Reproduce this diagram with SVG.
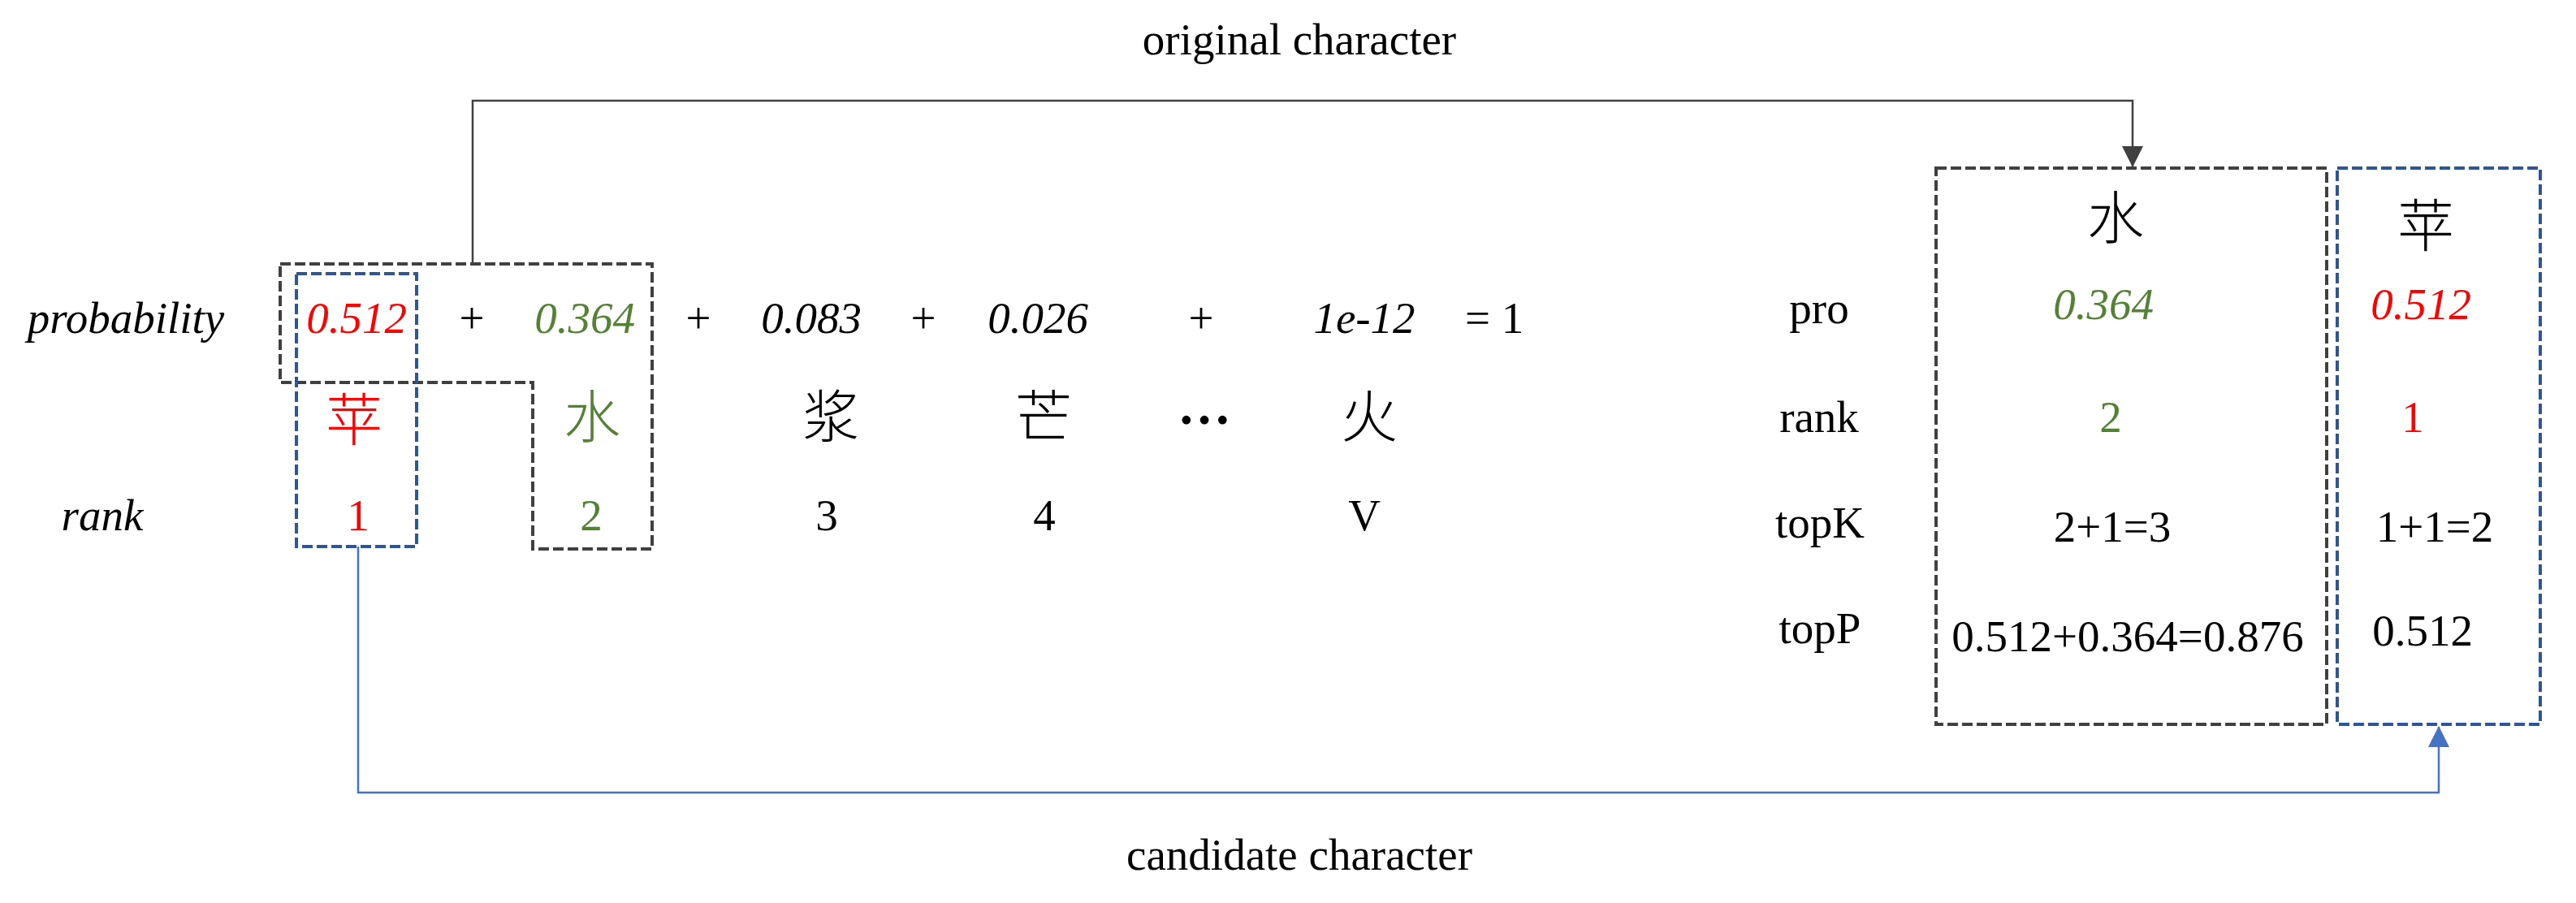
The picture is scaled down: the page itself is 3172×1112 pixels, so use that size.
<svg xmlns="http://www.w3.org/2000/svg" width="3172" height="1112" viewBox="0 0 3172 1112">
<defs>
<style>
text{font-family:"Liberation Serif","Times New Roman",serif;font-size:55px;fill:#000;text-anchor:middle}
.it{font-style:italic}
.red{fill:#FF0000}
.grn{fill:#548235}
.cjk{font-family:"Noto Sans CJK SC","Noto Sans CJK JP",sans-serif;font-size:70px;font-weight:300}
.bk{fill:none;stroke:#404040;stroke-width:4;stroke-dasharray:13 5}
.bl{fill:none;stroke:#2F5597;stroke-width:4;stroke-dasharray:13 5}
</style>
<marker id="ahd" markerUnits="userSpaceOnUse" markerWidth="28" markerHeight="28" refX="25" refY="13" orient="auto"><path d="M0,0 L26,13 L0,26 z" fill="#404040"/></marker>
<marker id="ahb" markerUnits="userSpaceOnUse" markerWidth="28" markerHeight="28" refX="25" refY="13" orient="auto"><path d="M0,0 L26,13 L0,26 z" fill="#4472C4"/></marker>
</defs>
<rect width="3172" height="1112" fill="#fff"/>

<g id="connectors">
<path d="M582,325 V124 H2626 V205" fill="none" stroke="#404040" stroke-width="2.5" marker-end="url(#ahd)"/>
<path d="M441,673 V976 H3003 V895" fill="none" stroke="#4472C4" stroke-width="2.5" marker-end="url(#ahb)"/>
</g>

<g id="label-original"><text x="1600" y="67">original character</text></g>
<g id="label-candidate"><text x="1600" y="1071">candidate character</text></g>

<g id="row-labels">
<text class="it" x="155" y="410">probability</text>
<text class="it" x="126" y="653">rank</text>
</g>

<g id="original-group"><path class="bk" d="M345,325 H803 V676 H656 V471 H345 Z"/></g>
<g id="candidate-group"><rect class="bl" x="365" y="337" width="148" height="336"/></g>

<g id="tok1">
<text class="it red" x="439" y="410">0.512</text>
<text class="cjk red" x="436" y="543">苹</text>
<text class="red" x="441" y="653">1</text>
</g>
<g id="plus1"><text x="581" y="410">+</text></g>
<g id="tok2">
<text class="it grn" x="720" y="410">0.364</text>
<text class="cjk grn" x="729" y="539">水</text>
<text class="grn" x="728" y="653">2</text>
</g>
<g id="plus2"><text x="860" y="410">+</text></g>
<g id="tok3">
<text class="it" x="999" y="410">0.083</text>
<text class="cjk" x="1023" y="539">浆</text>
<text x="1018" y="653">3</text>
</g>
<g id="plus3"><text x="1137" y="410">+</text></g>
<g id="tok4">
<text class="it" x="1278" y="410">0.026</text>
<text class="cjk" x="1285" y="539">芒</text>
<text x="1286" y="653">4</text>
</g>
<g id="plus4"><text x="1479" y="410">+</text></g>
<g id="ellipsis"><text x="1483" y="522" style="font-size:66px;font-weight:bold">…</text></g>
<g id="tokV">
<text class="it" x="1680" y="410">1e-12</text>
<text class="cjk" x="1686" y="539">火</text>
<text x="1680" y="653">V</text>
</g>
<g id="sum"><text x="1804" y="410" style="text-anchor:start">= 1</text></g>

<g id="table-labels">
<text x="2240" y="398">pro</text>
<text x="2240" y="532">rank</text>
<text x="2241" y="662">topK</text>
<text x="2241" y="792">topP</text>
</g>

<g id="orig-box">
<rect class="bk" x="2384" y="207" width="481" height="685"/>
<text class="cjk" x="2605" y="294">水</text>
<text class="it grn" x="2590" y="393">0.364</text>
<text class="grn" x="2599" y="532">2</text>
<text x="2601" y="667">2+1=3</text>
<text x="2620" y="802">0.512+0.364=0.876</text>
</g>

<g id="cand-box">
<rect class="bl" x="2878" y="207" width="250" height="685"/>
<text class="cjk" x="2987" y="304">苹</text>
<text class="it red" x="2981" y="393">0.512</text>
<text class="red" x="2971" y="532">1</text>
<text x="2998" y="667">1+1=2</text>
<text x="2983" y="795">0.512</text>
</g>
</svg>
